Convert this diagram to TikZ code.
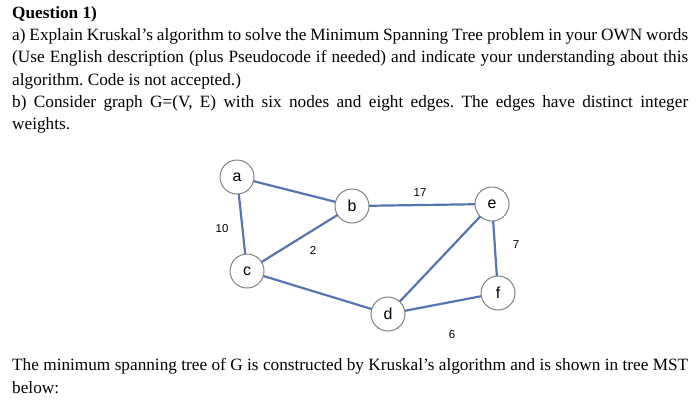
\documentclass[tikz,border=0pt]{standalone}
\usepackage{fontspec}
\setmainfont{Liberation Serif}
\newfontfamily\lsans{Liberation Sans}
\frenchspacing
\begin{document}
\begin{tikzpicture}[x=1bp,y=-1bp,
  vtx/.style={circle,draw=black!50,line width=1bp,fill=white,minimum size=34bp,inner sep=0pt,font=\lsans\fontsize{16}{16}\selectfont},
  edge/.style={line width=2.2bp,color={rgb,255:red,84;green,116;blue,178}},
  wt/.style={font=\lsans\fontsize{11.5}{11.5}\selectfont},
  ln/.style={anchor=west,inner sep=0pt,font=\fontsize{17.3}{20}\selectfont}]
\useasboundingbox (0,0) rectangle (700,407);
\node[ln] (t1) at (12,14) {\textbf{Question 1)}};
\node[ln] (t2) at (12,36) {\makebox[676bp][s]{a) Explain Kruskal’s algorithm to solve the Minimum Spanning Tree problem in your OWN words}};
\node[ln] (t3) at (12,58) {\makebox[676bp][s]{(Use English description (plus Pseudocode if needed) and indicate your understanding about this}};
\node[ln] (t4) at (12,81) {algorithm. Code is not accepted.)};
\node[ln] (t5) at (12,103) {\makebox[676bp][s]{b) Consider graph G=(V, E) with six nodes and eight edges. The edges have distinct integer}};
\node[ln] (t6) at (12,125) {weights.};
\node[ln] (t7) at (12,366) {\makebox[676bp][s]{The minimum spanning tree of G is constructed by Kruskal’s algorithm and is shown in tree MST}};
\node[ln] (t8) at (12,388) {below:};
\draw[edge] (237,177) -- (352,206);
\draw[edge] (237,177) -- (247,271);
\draw[edge] (352,206) -- (247,271);
\draw[edge] (352,206) -- (492,204);
\draw[edge] (247,271) -- (388,314);
\draw[edge] (388,314) -- (492,204);
\draw[edge] (388,314) -- (498,293);
\draw[edge] (492,204) -- (498,293);
\node[vtx] (a) at (237,177) {a};
\node[vtx] (b) at (352,206) {b};
\node[vtx] (e) at (492,204) {e};
\node[vtx] (c) at (247,271) {c};
\node[vtx] (d) at (388,314) {d};
\node[vtx] (f) at (498,293) {f};
\node[wt] (w10) at (222,229) {10};
\node[wt] (w2) at (313,250) {2};
\node[wt] (w17) at (420,193) {17};
\node[wt] (w7) at (516,245) {7};
\node[wt] (w6) at (452,335) {6};
\end{tikzpicture}
\end{document}
